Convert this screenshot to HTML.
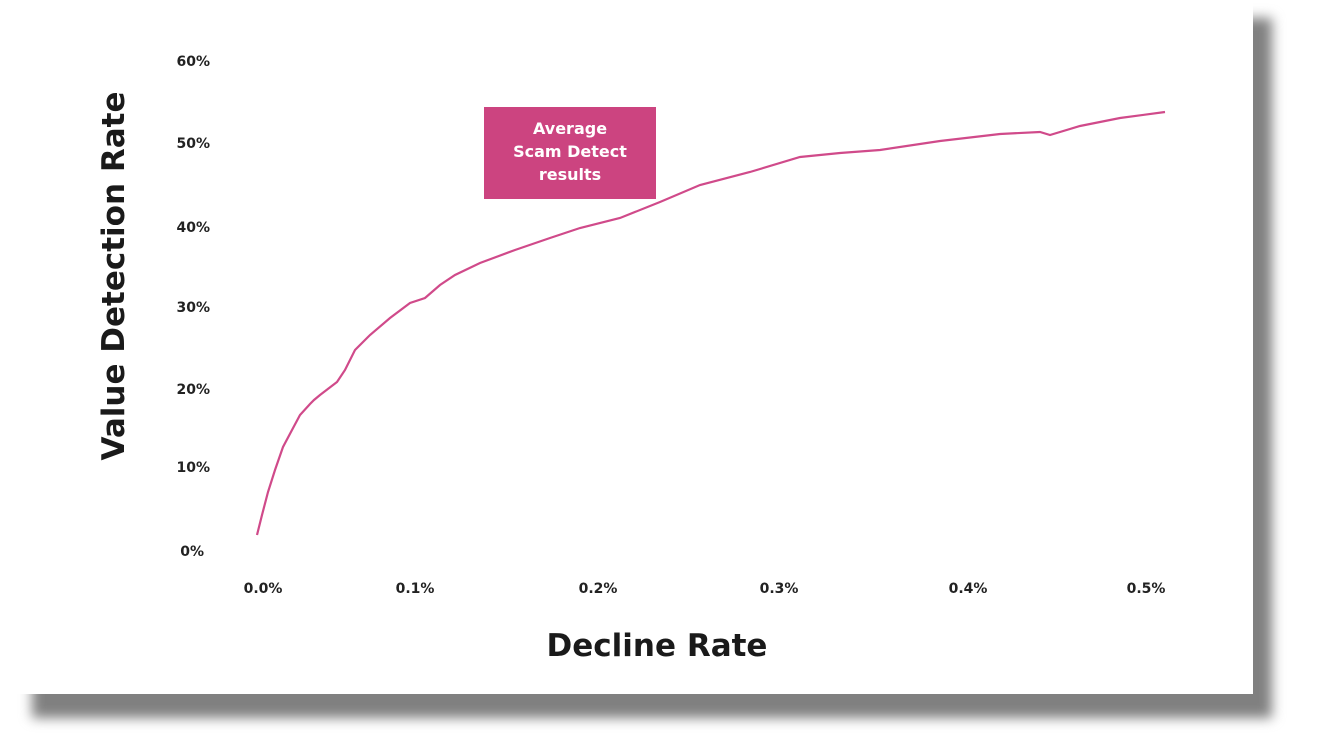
<!DOCTYPE html>
<html><head><style>
body{margin:0;width:1320px;height:743px;background:#fff;position:relative;overflow:hidden;font-family:"DejaVu Sans","Liberation Sans",sans-serif}
.sh{position:absolute;left:32px;top:18px;width:1240px;height:700px;background:#808080;filter:blur(6px)}
.card{position:absolute;left:0;top:0;width:1253px;height:694px;background:#fff}
.t{position:absolute;font-size:14px;font-weight:bold;color:#222}
</style></head><body>
<div class="sh"></div>
<div class="card">
<svg width="1253" height="694" style="position:absolute;left:0;top:0">
<polyline fill="none" stroke="#d04a8a" stroke-width="2.2" points="257,535 262,515 268,492 275,470 283,447 292,430 300,415 310,404 314,400 320,395 337,382 345,370 355,350 370,335 390,318 410,303 425,298 440,285 455,275 480,263 515,250 550,238 580,228 620,218 660,202 700,185 750,172 800,157 840,153 880,150 940,141 1000,134 1040,132 1050,135 1080,126 1120,118 1165,112"/>
<rect x="484" y="107" width="172" height="92" fill="#cc4480"/>
<text x="570" y="134" fill="#fff" font-size="16" font-weight="bold" text-anchor="middle" font-family="DejaVu Sans,sans-serif">Average</text>
<text x="570" y="157" fill="#fff" font-size="16" font-weight="bold" text-anchor="middle" font-family="DejaVu Sans,sans-serif">Scam Detect</text>
<text x="570" y="180" fill="#fff" font-size="16" font-weight="bold" text-anchor="middle" font-family="DejaVu Sans,sans-serif">results</text>
<g font-size="14" font-weight="bold" fill="#222" text-anchor="end" font-family="DejaVu Sans,sans-serif">
<text x="210" y="66">60%</text><text x="210" y="148">50%</text><text x="210" y="232">40%</text><text x="210" y="312">30%</text><text x="210" y="394">20%</text><text x="210" y="472">10%</text><text x="204" y="556">0%</text>
</g>
<g font-size="14" font-weight="bold" fill="#222" text-anchor="middle" font-family="DejaVu Sans,sans-serif">
<text x="263" y="593">0.0%</text><text x="415" y="593">0.1%</text><text x="598" y="593">0.2%</text><text x="779" y="593">0.3%</text><text x="968" y="593">0.4%</text><text x="1146" y="593">0.5%</text>
</g>
<text x="657" y="656" font-size="31" font-weight="bold" fill="#1a1a1a" text-anchor="middle" font-family="DejaVu Sans,sans-serif">Decline Rate</text>
<text transform="translate(124,276) rotate(-90)" font-size="31" font-weight="bold" fill="#1a1a1a" text-anchor="middle" font-family="DejaVu Sans,sans-serif">Value Detection Rate</text>
</svg>
</div>
</body></html>
